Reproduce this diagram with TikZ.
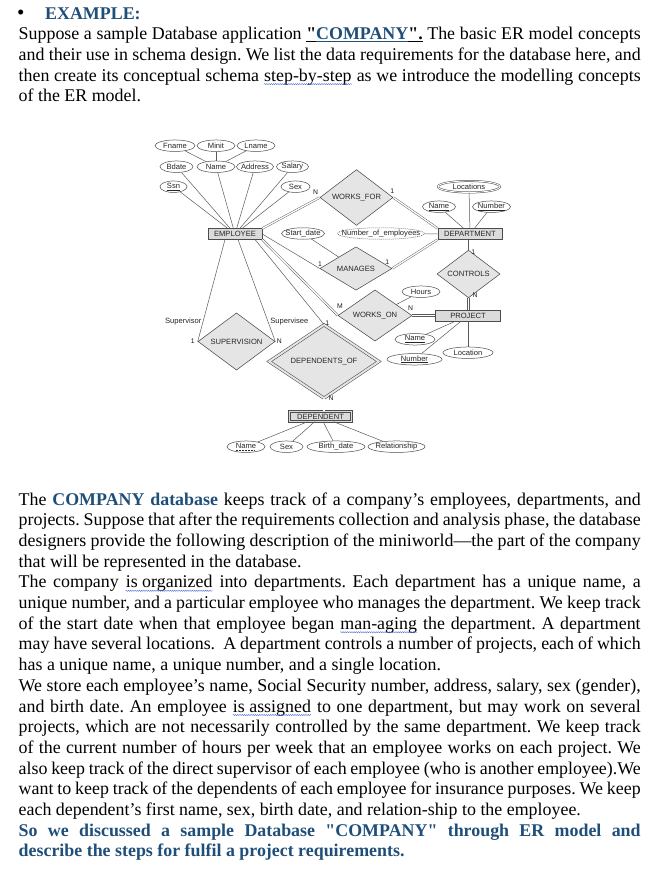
\documentclass[tikz,border=0pt]{standalone}
\usepackage{fontspec}
\setmainfont{Liberation Serif}
\setsansfont{Liberation Sans}
\usepackage{xcolor}
\usetikzlibrary{shapes.geometric, math, decorations.pathmorphing}
\definecolor{dblue}{RGB}{31,78,121}
\definecolor{wblue}{RGB}{60,100,210}
\newcommand{\erfont}{\sffamily\fontsize{7.6}{8}\selectfont}
\newcommand{\cdfont}{\sffamily\fontsize{6.8}{7}\selectfont}
\newcommand{\jline}[1]{\makebox[622pt][s]{#1}}
\newcommand{\dq}{\textquotedbl}
\newcommand{\wavy}[1]{\tikz[baseline=(w.base)]{\node[inner sep=0pt, anchor=base] (w) {#1};
  \draw[wblue, line width=0.35pt, decorate, decoration={snake, amplitude=0.6pt, segment length=2.2pt}]
  ([yshift=-3pt]w.base west) -- ([yshift=-3pt]w.base east);}}
\newcommand{\dashul}[1]{\setbox2=\hbox{#1}\rlap{\lower1.3pt\hbox to \wd2{\leaders\hbox to 1.5pt{\vrule height 0.35pt width 0.9pt\hss}\hfill}}\box2}
\frenchspacing
\tikzset{
  txt/.style={anchor=base west, inner sep=0pt, font=\fontsize{17.9}{20.7}\selectfont},
  ent/.style={rectangle, draw=black!70, fill=black!14, line width=0.55pt, minimum width=54pt,
    minimum height=10.5pt, inner sep=0pt, font=\erfont, text=black!85},
  wkent/.style={ent, double=black!14, double distance=1.3pt, minimum width=62pt, minimum height=10pt},
  rel/.style={diamond, draw=black!70, fill=black!10, line width=0.55pt, inner sep=0pt,
    font=\erfont, text=black!85},
  idrel/.style={rel, double=black!10, double distance=2pt},
  attr/.style={ellipse, draw=black!70, fill=white, line width=0.5pt, inner sep=0pt,
    minimum width=36pt, minimum height=11.5pt, font=\erfont, text=black!85,
    execute at begin node={\setbox0=\hbox\bgroup},
    execute at end node={\egroup\makebox[0pt]{\box0}}},
  mattr/.style={attr, double, double distance=0.9pt},
  dattr/.style={attr, dash pattern=on 1pt off 1pt},
  card/.style={font=\cdfont, inner sep=0pt, text=black!90},
  role/.style={font=\erfont, inner sep=0pt, text=black!85},
  link/.style={draw=black!65, line width=0.5pt},
  tot/.style={draw=black!65, line width=0.45pt, double=white, double distance=1.3pt},
}

\begin{document}
\begin{tikzpicture}[x=1pt,y=-1pt]
\tikzmath{
\lx=18.5;
\lsp=20.7;
}
\useasboundingbox (0,0) rectangle (656,871);

%heading
\node[txt, font=\fontsize{21}{21}\selectfont] (bul) at (17,19.5) {\textbullet};
\node[txt, font=\fontsize{17.9}{20.7}\selectfont\bfseries, text=dblue] (t0) at (45,19) {EXAMPLE:};
\foreach \t [count=\i] in {
  {\jline{Suppose a sample Database application {\bfseries\underline{\dq}\textcolor{dblue}{\underline{COMPANY}}\underline{\dq.}} The basic ER model concepts}},
  {\jline{and their use in schema design. We list the data requirements for the database here, and}},
  {\jline{then create its conceptual schema \wavy{step-by-step} as we introduce the modelling concepts}},
  {of the ER model.}}
  \node[txt] (t\i) at (\lx,19+\i*\lsp) {\t};

%entities
\node[ent] (emp) at (235,234) {EMPLOYEE};
\node[ent, minimum width=64pt] (dept) at (470,234) {DEPARTMENT};
\node[ent, minimum width=65pt, minimum height=11pt] (proj) at (468,315.5) {PROJECT};
\node[wkent] (dep) at (320.5,416.5) {DEPENDENT};

%relationships
\node[rel, minimum width=73pt, minimum height=41pt] (wfor) at (356.5,197.5) {WORKS\_FOR};
\node[rel, minimum width=72pt, minimum height=43pt] (mng) at (356,268.5) {MANAGES};
\node[rel, minimum width=63pt, minimum height=38pt] (ctrl) at (468.5,274) {CONTROLS};
\node[rel, minimum width=74pt, minimum height=45pt] (won) at (375,315.5) {WORKS\_ON};
\node[rel, minimum width=77pt, minimum height=43pt] (sup) at (236.5,341.5) {SUPERVISION};
\node[idrel, minimum width=110pt, minimum height=61pt] (dof) at (324,361.5) {DEPENDENTS\_OF};

%attributes
\node[attr, minimum width=40pt] (fname) at (175,145.7) {Fname};
\node[attr, minimum width=38pt] (minit) at (216,145.7) {Minit};
\node[attr, minimum width=38pt] (lname) at (256,145.7) {Lname};
\node[attr, minimum width=33pt] (bdate) at (176.5,166.7) {Bdate};
\node[attr, minimum width=38pt] (ename) at (216,166.7) {Name};
\node[attr, minimum width=37pt] (addr) at (255,166.7) {Address};
\node[attr, minimum width=32pt] (sal) at (292.5,166.7) {Salary};
\node[attr, minimum width=27pt] (ssn) at (173.5,186.7) {\underline{Ssn}};
\node[attr, minimum width=29pt] (esex) at (295.5,186.7) {Sex};
\node[mattr, minimum width=62pt] (locs) at (469,186.7) {Locations};
\node[attr, minimum width=33pt] (dname) at (439,206.7) {\underline{Name}};
\node[attr, minimum width=38pt] (dnum) at (491.5,206.7) {\underline{Number}};
\node[dattr, minimum width=87pt] (noe) at (381,233.5) {Number\_of\_employees};
\node[attr, minimum width=43pt] (sdate) at (303,233.5) {Start\_date};
\node[attr, minimum width=38pt] (hours) at (421,291.7) {Hours};
\node[attr, minimum width=40pt] (pname) at (415,339.3) {\underline{Name}};
\node[attr, minimum width=55pt] (pnum) at (414.5,359.3) {\underline{Number}};
\node[attr, minimum width=50pt] (ploc) at (468,352.7) {Location};
\node[attr, minimum width=38pt] (dpname) at (246,446.7) {\dashul{Name}};
\node[attr, minimum width=33pt] (dpsex) at (286.5,446.7) {Sex};
\node[attr, minimum width=58pt] (bdt) at (336,446.7) {Birth\_date};
\node[attr, minimum width=57pt] (rship) at (396.5,446.7) {Relationship};

%roles and cardinalities
\node[role] (svr) at (183.3,321.7) {Supervisor};
\node[role] (sve) at (289.3,321.7) {Supervisee};
\node[card] (cwf1) at (315.7,191.7) {N};
\node[card] (cwf2) at (392.3,191) {1};
\node[card] (cmg1) at (320,264.3) {1};
\node[card] (cmg2) at (387.3,261.7) {1};
\node[card] (cct1) at (473.3,251.7) {1};
\node[card] (cct2) at (475,295) {N};
\node[card] (cwo1) at (340,305.7) {M};
\node[card] (cwo2) at (410.7,308.3) {N};
\node[card] (csu1) at (192.7,341) {1};
\node[card] (csu2) at (279.3,341) {N};
\node[card] (cdo1) at (327.3,322.7) {1};
\node[card] (cdo2) at (331,398.3) {N};

%links
\foreach \a in {fname,minit,lname} \draw[link] (\a) -- (ename);
\foreach \a in {bdate,ename,addr,sal,ssn,esex} \draw[link] (\a) -- (emp);
\foreach \a in {locs,dname,dnum,noe} \draw[link] (\a) -- (dept);
\foreach \a in {pname,pnum,ploc} \draw[link] (\a) -- (proj);
\foreach \a in {dpname,dpsex,bdt,rship} \draw[link] (\a) -- (dep);
\draw[link] (sdate) -- (mng);
\draw[link] (hours) -- (won);
\draw[tot] (emp.north east) -- (wfor.west);
\draw[tot] (wfor.east) -- (dept.north west);
\draw[link] (emp.east) -- (mng.west);
\draw[tot] (mng.east) -- (dept.south west);
\draw[link] (ctrl.north) -- (ctrl.north |- dept.south);
\draw[tot] (ctrl.south) -- (ctrl.south |- proj.north);
\draw[tot] (emp.south east) -- (won.west);
\draw[tot] (won.east) -- (proj.west);
\draw[link] ([xshift=-10pt]emp.south) -- (sup.west);
\draw[link] ([xshift=3pt]emp.south) -- (sup.east);
\draw[link] ([xshift=20pt]emp.south) -- (dof.north);
\draw[tot] (dof.south) -- (dof.south |- dep.north);

%text
\foreach \t [count=\i from 0] in {
  {\jline{The {\bfseries\color{dblue}COMPANY database} keeps track of a company’s employees, departments, and}},
  {\jline{projects. Suppose that after the requirements collection and analysis phase, the database}},
  {\jline{designers provide the following description of the miniworld—the part of the company}},
  {that will be represented in the database.},
  {\jline{The company \wavy{is organized} into departments. Each department has a unique name, a}},
  {\jline{unique number, and a particular employee who manages the department. We keep track}},
  {\jline{of the start date when that employee began \wavy{man-aging} the department. A department}},
  {\jline{may have several locations.\ \ A department controls a number of projects, each of which}},
  {has a unique name, a unique number, and a single location.},
  {\jline{We store each employee’s name, Social Security number, address, salary, sex (gender),}},
  {\jline{and birth date. An employee \wavy{is assigned} to one department, but may work on several}},
  {\jline{projects, which are not necessarily controlled by the same department. We keep track}},
  {\jline{of the current number of hours per week that an employee works on each project. We}},
  {\jline{also keep track of the direct supervisor of each employee (who is another employee).We}},
  {\jline{want to keep track of the dependents of each employee for insurance purposes. We keep}},
  {each dependent’s first name, sex, birth date, and relation-ship to the employee.},
  {\jline{\bfseries\color{dblue}So we discussed a sample Database \dq COMPANY\dq{} through ER model and}},
  {{\bfseries\color{dblue}describe the steps for fulfil a project requirements.}}}
  \node[txt] (b\i) at (\lx,505+\i*\lsp) {\t};

\end{tikzpicture}
\end{document}
